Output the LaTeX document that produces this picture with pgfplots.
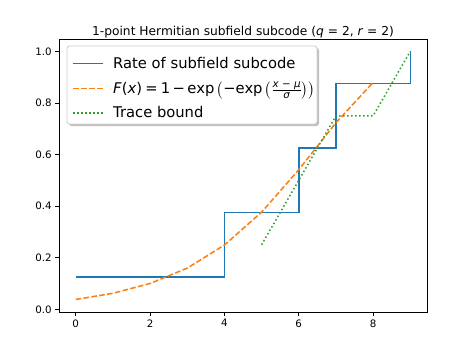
\documentclass[border=0pt]{standalone}
\usepackage{fontspec}
\setmainfont{DejaVu Sans}
\usepackage{amsmath}
\usepackage{pgfplots}
\pgfplotsset{compat=1.18}
\usetikzlibrary{shadows}
\definecolor{tabblue}{HTML}{1F77B4}
\definecolor{taborange}{HTML}{FF7F0E}
\definecolor{tabgreen}{HTML}{2CA02C}
\begin{document}
\begin{tikzpicture}
\begin{axis}[
  at={(0,0)}, anchor=south west,
  scale only axis, width=368bp, height=273bp,
  xmin=-0.45, xmax=9.45, ymin=-0.0106, ymax=1.048,
  xtick={0,2,4,6,8}, ytick={0,0.2,0.4,0.6,0.8,1.0},
  yticklabel style={/pgf/number format/fixed,/pgf/number format/fixed zerofill,/pgf/number format/precision=1},
  /pgf/number format/assume math mode=true,
  tick align=outside, major tick length=3.6bp,
  xtick pos=bottom, ytick pos=left,
  major tick style={line width=0.8bp, black},
  axis line style={line width=0.8bp, black},
  ticklabel style={font=\fontsize{10.3}{12}\selectfont},
  xticklabel style={inner sep=0pt, yshift=-3.6bp},
  yticklabel style={inner sep=0pt, xshift=-3.6bp},
  title={1-point Hermitian subfield subcode (\textit{q} = 2, \textit{r} = 2)},
  every axis title shift=0pt,
  title style={font=\fontsize{12.3}{14}\selectfont, at={(0.5,1)}, anchor=base, yshift=3.5bp},
  legend cell align=left,
  legend style={at={(0.0217,0.965)}, anchor=north west, draw=none, fill=none,
    font=\fontsize{14.8}{17}\selectfont,
    inner xsep=5.5bp, inner ysep=6.5bp, row sep=7.5bp},
  legend image code/.code={\draw[#1] (0bp,0bp) -- (30bp,0bp);\path (37bp,0bp);},
]
\fill[black!50, opacity=0.5, rounded corners=2.5bp]
  ([xshift=2bp,yshift=-2bp]axis description cs:0.0217,0.9744) rectangle ([xshift=2bp,yshift=-2bp]axis description cs:0.7011,0.6886);
\draw[black!20, fill=white, line width=0.8bp, rounded corners=2.5bp]
  (axis description cs:0.0217,0.9744) rectangle (axis description cs:0.7011,0.6886);
\addplot[tabblue, line width=1.54bp, const plot] coordinates {
  (0,0.125)(1,0.125)(2,0.125)(3,0.125)(4,0.375)(5,0.375)(6,0.625)(7,0.875)(8,0.875)(9,1.0)};
\addlegendentry{Rate of subfield subcode}
\addplot[taborange, line width=1.54bp, dash pattern=on 5.55bp off 2.4bp] coordinates {
  (0,0.0380)(1,0.0619)(2,0.1000)(3,0.1595)(4,0.2491)(5,0.3765)(6,0.5410)(7,0.7231)(8,0.8796)};
\addlegendentry{$\text{\textit{F}(\textit{x})}\mskip4mu\text{=}\mskip4mu\text{1}\mskip3mu\text{−}\mskip3mu\text{exp}\left(\text{−exp}\left(\frac{\text{\textit{x} − \textit{μ}}}{\text{\textit{σ}}}\right)\right)$}
\addplot[tabgreen, line width=1.54bp, dash pattern=on 1.5bp off 2.5bp] coordinates {
  (5,0.25)(6,0.5)(7,0.75)(8,0.75)(9,1.0)};
\addlegendentry{Trace bound}
\end{axis}
\path[use as bounding box] (-59bp,-39bp) rectangle (415bp,312bp);
\end{tikzpicture}
\end{document}
